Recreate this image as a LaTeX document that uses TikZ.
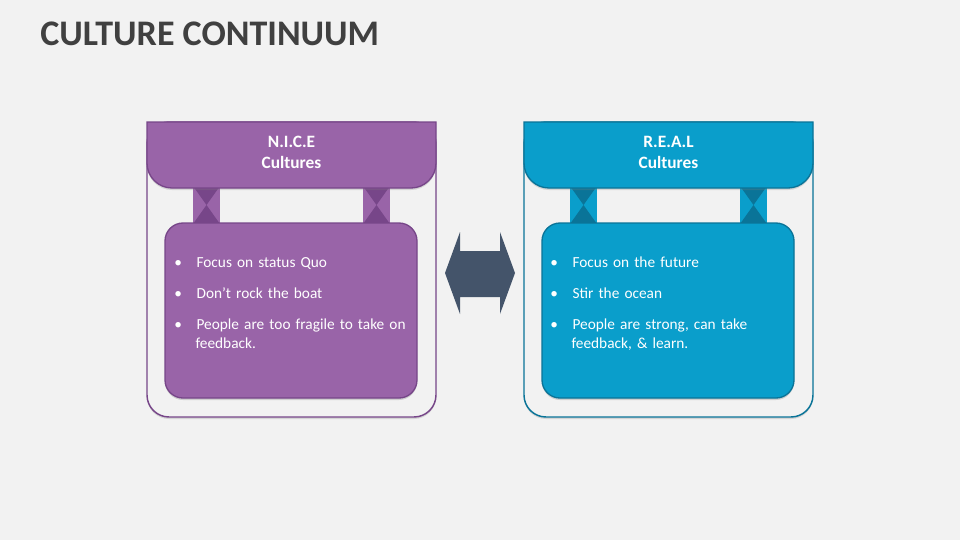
\documentclass[tikz,border=0pt]{standalone}
\usepackage{fontspec}
\setmainfont{Carlito}
\usepackage{enumitem}
\usetikzlibrary{positioning, shadows}

\definecolor{bgGrey}{HTML}{F2F2F2}
\definecolor{titleGrey}{HTML}{404040}
\definecolor{nicePurple}{HTML}{9964A8}
\definecolor{niceDark}{HTML}{774689}
\definecolor{realBlue}{HTML}{0A9ECB}
\definecolor{realDark}{HTML}{0A7498}
\definecolor{arrowSlate}{HTML}{44546A}

\setlist[itemize]{label=\textbullet, align=left, leftmargin=16pt, labelwidth=5pt, labelsep=11pt,
  itemsep=9pt, parsep=0pt, topsep=0pt, partopsep=0pt}

\begin{document}
\begin{tikzpicture}[x=0.75pt, y=-0.75pt]
  % Styles
  \tikzset{outerbox/.style={fill=bgGrey, line width=1.1pt, rounded corners=16.5pt,
      drop shadow={opacity=0.25, shadow xshift=0pt, shadow yshift=-1.5pt}}}
  \tikzset{headbox/.style={line width=1pt,
      drop shadow={opacity=0.25, shadow xshift=0pt, shadow yshift=-1.5pt}}}
  \tikzset{bodybox/.style={line width=1pt, rounded corners=13.5pt,
      drop shadow={opacity=0.3, shadow xshift=0pt, shadow yshift=-1.5pt}}}
  \tikzset{headtext/.style={text=white, font=\bfseries\fontsize{13}{15.75}\selectfont, align=center, inner sep=0pt}}
  \tikzset{listtext/.style={text=white, font=\fontsize{11.5}{14.25}\selectfont, text width=190pt,
      inner sep=0pt, anchor=north west, align=left}}

  \useasboundingbox[fill=bgGrey] (0,0) rectangle (960,540);

  % --- Title ---
  \node[anchor=base west, inner sep=0pt, text=titleGrey, font=\bfseries\fontsize{27}{32}\selectfont]
    (title) at (40,45) {CULTURE CONTINUUM};

  % --- N.I.C.E panel ---
  \draw[outerbox, draw=niceDark] (147,122) rectangle (436,417);
  \foreach \sx in {193,363} {
    \fill[nicePurple] (\sx,186) rectangle +(27,38);
    \fill[niceDark] (\sx,186) -- +(27,0) -- +(13.5,19) -- cycle;
    \fill[niceDark] (\sx,224) -- +(27,0) -- +(13.5,-19) -- cycle;
  }
  \path[headbox, fill=nicePurple, draw=niceDark] (147,122) -- (436,122) -- (436,163)
    arc[start angle=0, end angle=90, radius=25] -- (172,188)
    arc[start angle=90, end angle=180, radius=25] -- cycle;
  \node[headtext] (niceHead) at (291.5,152) {N.I.C.E\\Cultures};
  \draw[bodybox, fill=nicePurple, draw=niceDark] (165,223) rectangle (417,398);
  \node[listtext] (niceList) at (174,248) {%
    \begin{itemize}\raggedright
      \item Focus on status Quo
      \item Don’t rock the boat
      \item People are too fragile to take on\newline feedback.
    \end{itemize}};

  % --- Double arrow ---
  \fill[arrowSlate] (445,273) -- (460,232) -- (460,251) -- (500,251) -- (500,232) -- (515,273)
    -- (500,314) -- (500,297) -- (460,297) -- (460,314) -- cycle;

  % --- R.E.A.L panel ---
  \draw[outerbox, draw=realDark] (524,122) rectangle (813,417);
  \foreach \sx in {570,740} {
    \fill[realBlue] (\sx,186) rectangle +(27,38);
    \fill[realDark] (\sx,186) -- +(27,0) -- +(13.5,19) -- cycle;
    \fill[realDark] (\sx,224) -- +(27,0) -- +(13.5,-19) -- cycle;
  }
  \path[headbox, fill=realBlue, draw=realDark] (524,122) -- (813,122) -- (813,163)
    arc[start angle=0, end angle=90, radius=25] -- (549,188)
    arc[start angle=90, end angle=180, radius=25] -- cycle;
  \node[headtext] (realHead) at (668.5,152) {R.E.A.L\\Cultures};
  \draw[bodybox, fill=realBlue, draw=realDark] (542,223) rectangle (794,398);
  \node[listtext] (realList) at (550,248) {%
    \begin{itemize}\raggedright
      \item Focus on the future
      \item Stir the ocean
      \item People are strong, can take\newline feedback, \& learn.
    \end{itemize}};
\end{tikzpicture}
\end{document}
